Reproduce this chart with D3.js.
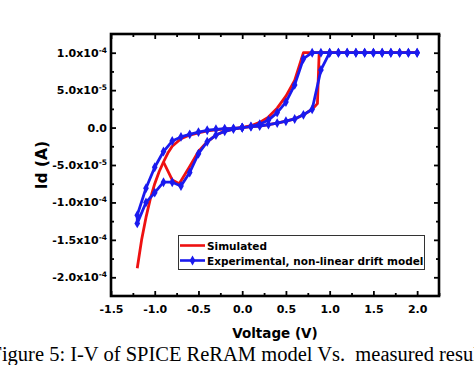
<!DOCTYPE html>
<html>
<head>
<meta charset="utf-8">
<script src="https://cdn.jsdelivr.net/npm/d3@7"></script>
<style>
  body { margin: 0; background: #fff; }
  svg { display: block; }
</style>
</head>
<body>
<svg id="chart" width="474" height="365"></svg>
<script>
// current values are in units of 1e-4 A
var xTicks = [-1.5, -1.0, -0.5, 0.0, 0.5, 1.0, 1.5, 2.0],
    xTickLabels = ["-1.5", "-1.0", "-0.5", "0.0", "0.5", "1.0", "1.5", "2.0"],
    xMinor = [-1.25, -0.75, -0.25, 0.25, 0.75, 1.25, 1.75, 2.25],
    yTicks = [-2.0, -1.5, -1.0, -0.5, 0.0, 0.5, 1.0],
    yTickMant = ["-2.0x10", "-1.5x10", "-1.0x10", "-5.0x10", "0.0", "5.0x10", "1.0x10"],
    yTickExp = ["-4", "-4", "-4", "-5", "", "-5", "-4"],
    yMinor = [-1.75, -1.25, -0.75, -0.25, 0.25, 0.75];

// Experimental (blue) sweep, one array pair per branch
var expSetV = [0, 0.1, 0.2, 0.3, 0.4, 0.5, 0.6, 0.7, 0.8, 0.9, 1.0, 1.1, 1.2, 1.3, 1.4, 1.5, 1.6, 1.7, 1.8, 1.9, 2.0],
    expSetI = [0, 0.012, 0.02, 0.04, 0.06, 0.085, 0.115, 0.17, 0.245, 0.77, 1.0, 1.0, 1.0, 1.0, 1.0, 1.0, 1.0, 1.0, 1.0, 1.0, 1.0],
    expBackV = [2.0, 1.9, 1.8, 1.7, 1.6, 1.5, 1.4, 1.3, 1.2, 1.1, 1.0, 0.9, 0.8, 0.7, 0.6, 0.5, 0.4, 0.3, 0.2, 0.1, 0],
    expBackI = [1.0, 1.0, 1.0, 1.0, 1.0, 1.0, 1.0, 1.0, 1.0, 1.0, 1.0, 1.0, 1.0, 0.92, 0.57, 0.34, 0.2, 0.1, 0.045, 0.014, 0],
    expNegV = [0, -0.1, -0.2, -0.3, -0.4, -0.5, -0.6, -0.7, -0.8, -0.9, -1.0, -1.1, -1.2],
    expNegI = [0, -0.01, -0.014, -0.023, -0.036, -0.06, -0.09, -0.125, -0.18, -0.32, -0.53, -0.81, -1.17],
    expRetV = [-1.2, -1.1, -1.0, -0.9, -0.8, -0.7, -0.6, -0.5, -0.4, -0.3, -0.2, -0.1, 0],
    expRetI = [-1.28, -1.0, -0.87, -0.73, -0.73, -0.78, -0.6, -0.35, -0.19, -0.1, -0.05, -0.02, 0];

// Simulated (red) curve
var simSetV = [0, 0.1, 0.2, 0.3, 0.4, 0.5, 0.6, 0.7, 0.8, 0.86, 0.88, 2.0],
    simSetI = [0, 0.012, 0.02, 0.04, 0.06, 0.085, 0.115, 0.17, 0.245, 0.32, 1.0, 1.0],
    simBackV = [2.0, 0.7, 0.6, 0.5, 0.4, 0.3, 0.2, 0.1, 0],
    simBackI = [1.0, 1.0, 0.63, 0.42, 0.26, 0.14, 0.07, 0.025, 0],
    simNegV = [0, -0.1, -0.2, -0.3, -0.4, -0.5, -0.6, -0.7, -0.8, -0.85, -0.9, -0.95, -1.0, -1.05, -1.1, -1.15, -1.2],
    simNegI = [0, -0.01, -0.018, -0.03, -0.045, -0.07, -0.1, -0.15, -0.25, -0.34, -0.46, -0.59, -0.75, -0.95, -1.2, -1.5, -1.88],
    simRetV = [-0.9, -0.8, -0.72, -0.6, -0.5, -0.4, -0.3, -0.2, -0.1, 0],
    simRetI = [-0.46, -0.7, -0.75, -0.52, -0.32, -0.19, -0.1, -0.05, -0.02, 0];

var font = "'DejaVu Sans', Arial, sans-serif";

var svg = d3.select("#chart");

var x = d3.scaleLinear().domain([-1.5, 2.25]).range([111, 439]),
    y = d3.scaleLinear().domain([-2.25, 1.25]).range([296, 34]);

function pts(vs, is) {
    return d3.zip(vs, is).map(function(p) { return {v: p[0], i: p[1]}; });
}

var line = d3.line()
    .x(function(d) { return x(d.v); })
    .y(function(d) { return y(d.i); });

// ticks: major + minor, inward on all four sides
function tickAxis(axis, tr, vals, len, fmt) {
    var g = svg.append("g").attr("transform", tr)
        .call(axis.tickValues(vals).tickSizeInner(-len).tickSizeOuter(0)
            .tickFormat(fmt || function() { return ""; }));
    g.select(".domain").remove();
    g.selectAll(".tick line").attr("stroke", "#000").attr("stroke-width", 1.8);
    return g;
}

var bottomAx = tickAxis(d3.axisBottom(x).tickPadding(9), "translate(0,296)", xTicks, 5,
    function(d, i) { return xTickLabels[i]; });
tickAxis(d3.axisBottom(x), "translate(0,296)", xMinor, 3);
tickAxis(d3.axisTop(x), "translate(0,34)", xTicks, 5);
tickAxis(d3.axisTop(x), "translate(0,34)", xMinor, 3);

var leftAx = tickAxis(d3.axisLeft(y).tickPadding(4), "translate(111,0)", yTicks, 5,
    function(d, i) { return yTickMant[i]; });
tickAxis(d3.axisLeft(y), "translate(111,0)", yMinor, 3);
tickAxis(d3.axisRight(y), "translate(439,0)", yTicks, 5);
tickAxis(d3.axisRight(y), "translate(439,0)", yMinor, 3);

bottomAx.selectAll("text")
    .attr("font-family", font).attr("font-weight", "bold")
    .attr("font-size", "11px").attr("fill", "#000");

leftAx.selectAll("text")
    .attr("font-family", font).attr("font-weight", "bold")
    .attr("font-size", "11px").attr("fill", "#000")
    .each(function(d, i) {
        if (!yTickExp[i]) return;
        var t = d3.select(this);
        t.text(null);
        t.append("tspan").text(yTickMant[i]);
        t.append("tspan").attr("font-size", "7.5px").attr("dy", "-4").text(yTickExp[i]);
    });

// frame
svg.append("rect")
    .attr("x", 111).attr("y", 34).attr("width", 328).attr("height", 262)
    .attr("fill", "none").attr("stroke", "#000").attr("stroke-width", 2.6);

// simulated curve (red)
var red = "#ee1111", blue = "#1a1aee";
[[simSetV, simSetI], [simBackV, simBackI], [simNegV, simNegI], [simRetV, simRetI]].forEach(function(b) {
    svg.append("path")
        .attr("d", line(pts(b[0], b[1])))
        .attr("fill", "none").attr("stroke", red).attr("stroke-width", 2.8)
        .attr("stroke-linejoin", "round");
});

// experimental curve (blue) with diamond markers
var expPts = [].concat(pts(expSetV, expSetI), pts(expBackV, expBackI),
    pts(expNegV, expNegI), pts(expRetV, expRetI));
svg.append("path")
    .attr("d", line(expPts))
    .attr("fill", "none").attr("stroke", blue).attr("stroke-width", 2.8)
    .attr("stroke-linejoin", "round");

var diamond = d3.symbol().type(d3.symbolDiamond).size(28);
svg.selectAll("path.mk").data(expPts).enter()
    .append("path").attr("class", "mk")
    .attr("transform", function(d) { return "translate(" + x(d.v) + "," + y(d.i) + ")"; })
    .attr("d", diamond)
    .attr("fill", blue);

// legend
var lg = svg.append("g");
lg.append("rect")
    .attr("x", 178.5).attr("y", 235.5).attr("width", 246).attr("height", 34)
    .attr("fill", "#fff").attr("stroke", "#333").attr("stroke-width", 1);
lg.append("line").attr("x1", 180).attr("x2", 205).attr("y1", 245.5).attr("y2", 245.5)
    .attr("stroke", red).attr("stroke-width", 2.6);
lg.append("line").attr("x1", 180).attr("x2", 205).attr("y1", 260.5).attr("y2", 260.5)
    .attr("stroke", blue).attr("stroke-width", 2.6);
lg.append("path").attr("transform", "translate(192.5,260.5)").attr("d", diamond).attr("fill", blue);
lg.append("text").attr("x", 207).attr("y", 249.5).text("Simulated")
    .attr("font-family", font).attr("font-weight", "bold").attr("font-size", "10.5px");
lg.append("text").attr("x", 207).attr("y", 264.5).text("Experimental, non-linear drift model")
    .attr("font-family", font).attr("font-weight", "bold").attr("font-size", "10.5px");

// axis titles
svg.append("text")
    .attr("x", 275).attr("y", 338)
    .attr("text-anchor", "middle")
    .attr("font-family", font).attr("font-weight", "bold").attr("font-size", "13.5px")
    .text("Voltage (V)");
svg.append("text")
    .attr("transform", "translate(47,165) rotate(-90)")
    .attr("text-anchor", "middle")
    .attr("font-family", font).attr("font-weight", "bold").attr("font-size", "15.5px")
    .text("Id (A)");

// caption (cut off by the crop, as in the source figure)
svg.append("text")
    .attr("x", -9.5).attr("y", 361)
    .attr("font-family", "'Liberation Serif', 'Times New Roman', serif")
    .attr("font-size", "20.5px")
    .style("white-space", "pre")
    .text("Figure 5: I-V of SPICE ReRAM model Vs.  measured results");
</script>
</body>
</html>
